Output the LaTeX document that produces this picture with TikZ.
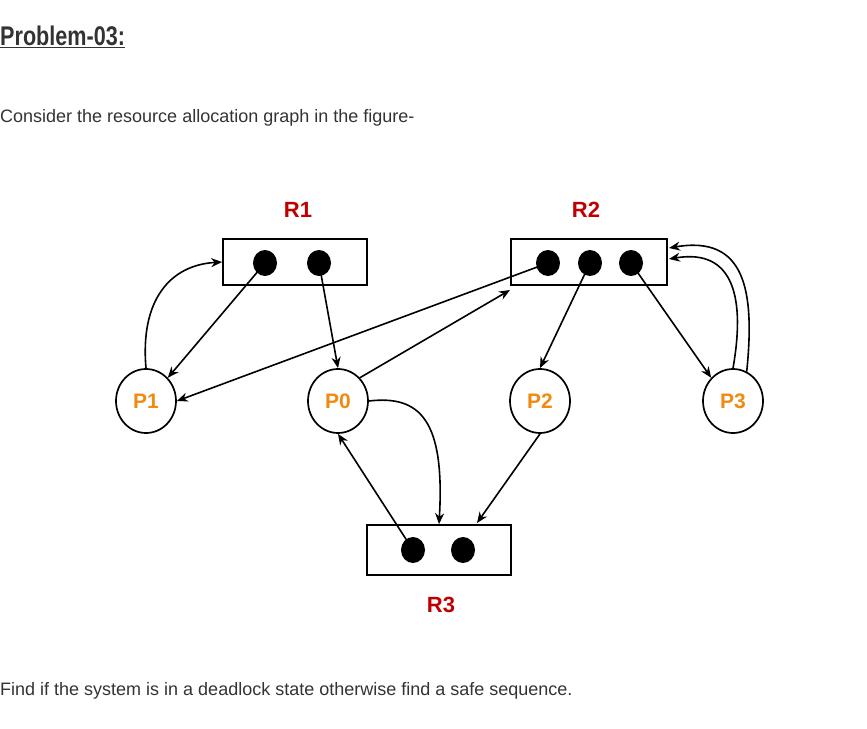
\documentclass[tikz,border=0pt]{standalone}
\usepackage{fontspec}
\setmainfont{Liberation Sans}
\usetikzlibrary{arrows.meta,shapes.geometric}
\definecolor{rlab}{HTML}{C00000}
\definecolor{plab}{HTML}{F08A10}
\definecolor{txt}{HTML}{333333}
\begin{document}
\begin{tikzpicture}[x=1pt,y=-1pt,
  res/.style={draw,line width=1.7pt,minimum width=#1,minimum height=46pt,inner sep=0},
  dot/.style={fill=black,ellipse,minimum width=24pt,minimum height=26pt,inner sep=0},
  proc/.style={draw,line width=1.7pt,ellipse,minimum width=60pt,minimum height=64pt,inner sep=0,text=plab,font=\bfseries\fontsize{21}{21}\selectfont},
  rl/.style={text=rlab,font=\bfseries\fontsize{22}{22}\selectfont},
  e/.style={-{Stealth[length=11pt,width=9pt]},line width=1.6pt}]
\useasboundingbox (0,0) rectangle (867,728);
\node[anchor=west,text=txt,font=\bfseries\fontsize{27}{27}\selectfont,inner sep=0] (title) at (0,37) {\underline{\scalebox{0.8}[1]{Problem-03:}}};
\node[anchor=west,text=txt,font=\fontsize{18}{18}\selectfont,inner sep=0] (t1) at (0,118) {Consider the resource allocation graph in the figure-};
\node[anchor=west,text=txt,font=\fontsize{18}{18}\selectfont,inner sep=0] (t2) at (0,691) {Find if the system is in a deadlock state otherwise find a safe sequence.};
\node[res=144pt] (R1) at (295,262) {};
\node[res=156pt] (R2) at (589,262) {};
\node[res=144pt,minimum height=50pt] (R3) at (439,550) {};
\node[dot] (a1) at (265,263) {}; \node[dot] (a2) at (319,263) {};
\node[dot] (b1) at (548,263) {}; \node[dot] (b2) at (590,263) {}; \node[dot] (b3) at (631,263) {};
\node[dot] (c1) at (413,550) {}; \node[dot] (c2) at (463,550) {};
\node[rl] (L1) at (298,210) {R1};
\node[rl] (L2) at (586,210) {R2};
\node[rl] (L3) at (441,605) {R3};
\node[proc] (P1) at (146,401) {P1};
\node[proc] (P0) at (338,401) {P0};
\node[proc] (P2) at (540,401) {P2};
\node[proc] (P3) at (733,401) {P3};
\draw[e] (P1.north) .. controls (140,300) and (170,265) .. (R1.west);
\draw[e] (a1.center) -- (P1.north east);
\draw[e] (a2.center) -- (P0.north);
\draw[e] (b1.center) -- (P1.east);
\draw[e] (P0.north east) -- (510,290);
\draw[e] (b2.center) -- (P2.north);
\draw[e] (b3.center) -- (P3.north west);
\draw[e] (P3.north) .. controls (745,300) and (735,248) .. (669,259);
\draw[e] (P3.65) .. controls (755,290) and (745,235) .. (669,248);
\draw[e] (P0.east) .. controls (420,395) and (445,420) .. (R3.north);
\draw[e] (c1.center) -- (P0.south);
\draw[e] (P2.south) -- (477,523);
\end{tikzpicture}
\end{document}
